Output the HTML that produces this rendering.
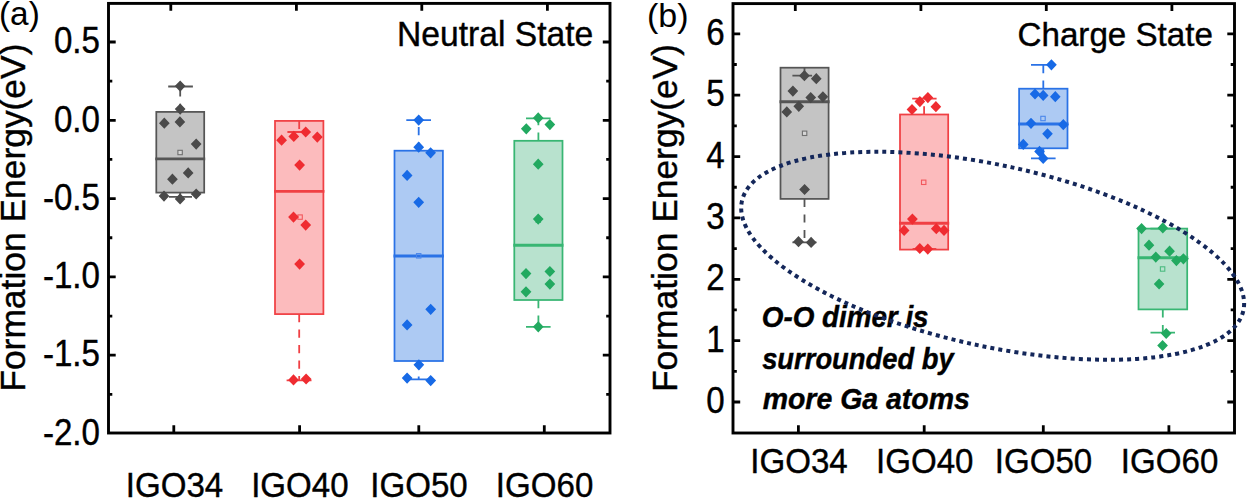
<!DOCTYPE html><html><head><meta charset="utf-8"><style>html,body{margin:0;padding:0;background:#fff;}svg{display:block}text{stroke:#000;stroke-width:0.4px}</style></head><body>
<svg width="1247" height="499" viewBox="0 0 1247 499" font-family='"Liberation Sans", sans-serif'>
<rect width="1247" height="499" fill="#fff"/>
<g>
<rect x="156.3" y="111.9" width="47.9" height="80.7" fill="#c4c4c4" stroke="#555555" stroke-width="1.75"/>
<path d="M180.2,111.9V86.5M180.2,192.6V196.8" stroke="#555555" stroke-width="1.8" stroke-dasharray="8.2 7.3" fill="none"/>
<path d="M168.2,86.5H192.9M168.9,196.8H192.0" stroke="#555555" stroke-width="1.8" fill="none"/>
<path d="M155.3,158.9H205.2" stroke="#555555" stroke-width="2.9"/>
<rect x="177.9" y="150.3" width="4.4" height="4.4" fill="#d6d6d6" stroke="#707070" stroke-width="1.1"/>
<path d="M180.2,80.5L185.5,86.1L180.2,91.7L174.8,86.1ZM180.2,103.5L185.5,109.1L180.2,114.7L174.8,109.1ZM164.3,117.6L169.7,123.2L164.3,128.8L159.0,123.2ZM179.9,116.3L185.2,121.9L179.9,127.5L174.6,121.9ZM196.2,138.5L201.5,144.1L196.2,149.7L190.8,144.1ZM188.2,167.3L193.5,172.9L188.2,178.5L182.8,172.9ZM172.4,173.6L177.8,179.2L172.4,184.8L167.1,179.2ZM164.0,190.5L169.3,196.1L164.0,201.7L158.7,196.1ZM180.1,193.3L185.4,198.9L180.1,204.5L174.8,198.9ZM196.2,188.4L201.5,194.0L196.2,199.6L190.8,194.0Z" fill="#4a4a4a"/>
</g>
<g>
<rect x="275.0" y="120.9" width="48.4" height="193.2" fill="#fcbbbd" stroke="#f04044" stroke-width="1.75"/>
<path d="M299.2,120.9V132.0M299.2,314.1V380.3" stroke="#f04044" stroke-width="1.8" stroke-dasharray="8.2 7.3" fill="none"/>
<path d="M287.4,132.0H301.5M286.6,380.3H311.5" stroke="#f04044" stroke-width="1.8" fill="none"/>
<path d="M274.0,191.4H324.4" stroke="#f04044" stroke-width="2.9"/>
<rect x="297.9" y="214.9" width="4.4" height="4.4" fill="none" stroke="#f2585c" stroke-width="1.1"/>
<path d="M281.6,134.6L287.0,140.2L281.6,145.8L276.2,140.2ZM293.8,130.8L299.2,136.4L293.8,142.0L288.4,136.4ZM305.7,126.4L311.1,132.0L305.7,137.6L300.3,132.0ZM317.3,131.5L322.7,137.1L317.3,142.7L311.9,137.1ZM299.6,159.5L305.0,165.1L299.6,170.7L294.2,165.1ZM293.5,211.5L298.9,217.1L293.5,222.7L288.1,217.1ZM305.7,219.5L311.1,225.1L305.7,230.7L300.3,225.1ZM299.6,258.5L305.0,264.1L299.6,269.7L294.2,264.1ZM293.5,374.3L298.9,379.9L293.5,385.5L288.1,379.9ZM306.1,373.4L311.5,379.0L306.1,384.6L300.8,379.0Z" fill="#ef2c31"/>
</g>
<g>
<rect x="394.5" y="150.7" width="48.4" height="210.3" fill="#adcaf3" stroke="#2a72e6" stroke-width="1.75"/>
<path d="M418.7,150.7V120.1M418.7,361.0V379.3" stroke="#2a72e6" stroke-width="1.8" stroke-dasharray="8.2 7.3" fill="none"/>
<path d="M406.3,120.1H431.0M407.0,379.3H430.7" stroke="#2a72e6" stroke-width="1.8" fill="none"/>
<path d="M393.5,256.0H443.9" stroke="#2a72e6" stroke-width="2.9"/>
<rect x="416.5" y="253.6" width="4.4" height="4.4" fill="none" stroke="#4a86ea" stroke-width="1.1"/>
<path d="M418.7,114.5L424.1,120.1L418.7,125.7L413.3,120.1ZM418.7,141.6L424.1,147.2L418.7,152.8L413.3,147.2ZM430.6,147.2L436.0,152.8L430.6,158.4L425.2,152.8ZM407.1,169.8L412.5,175.4L407.1,181.0L401.8,175.4ZM418.7,196.7L424.1,202.3L418.7,207.9L413.3,202.3ZM430.7,303.7L436.1,309.3L430.7,314.9L425.3,309.3ZM407.1,319.3L412.5,324.9L407.1,330.5L401.8,324.9ZM418.9,359.2L424.2,364.8L418.9,370.4L413.5,364.8ZM407.1,372.5L412.5,378.1L407.1,383.7L401.8,378.1ZM430.7,375.0L436.1,380.6L430.7,386.2L425.3,380.6Z" fill="#186ae6"/>
</g>
<g>
<rect x="514.3" y="140.8" width="48.2" height="159.2" fill="#b8e2ce" stroke="#38b673" stroke-width="1.75"/>
<path d="M538.4,140.8V118.3M538.4,300.0V326.8" stroke="#38b673" stroke-width="1.8" stroke-dasharray="8.2 7.3" fill="none"/>
<path d="M526.0,118.3H550.6M526.0,326.8H550.6" stroke="#38b673" stroke-width="1.8" fill="none"/>
<path d="M513.3,245.2H563.5" stroke="#38b673" stroke-width="2.9"/>
<rect x="536.1" y="218.0" width="4.4" height="4.4" fill="none" stroke="#4cbb80" stroke-width="1.1"/>
<path d="M538.2,112.3L543.6,117.9L538.2,123.5L532.9,117.9ZM526.3,123.2L531.6,128.8L526.3,134.4L520.9,128.8ZM549.9,119.0L555.2,124.6L549.9,130.2L544.5,124.6ZM538.2,158.6L543.6,164.2L538.2,169.8L532.9,164.2ZM538.2,213.5L543.6,219.1L538.2,224.7L532.9,219.1ZM526.0,268.0L531.4,273.6L526.0,279.2L520.6,273.6ZM549.9,265.9L555.2,271.5L549.9,277.1L544.5,271.5ZM549.9,278.5L555.2,284.1L549.9,289.7L544.5,284.1ZM526.0,286.2L531.4,291.8L526.0,297.4L520.6,291.8ZM538.3,321.2L543.6,326.8L538.3,332.4L532.9,326.8Z" fill="#22a960"/>
</g>
<rect x="108.5" y="3.4" width="501.5" height="429.6" fill="none" stroke="#000" stroke-width="2.9"/>
<path d="M108.5,42.00h7.2M610.0,42.00h-7.2M108.5,120.30h7.2M610.0,120.30h-7.2M108.5,198.60h7.2M610.0,198.60h-7.2M108.5,276.90h7.2M610.0,276.90h-7.2M108.5,355.20h7.2M610.0,355.20h-7.2M108.5,81.15h3.8M610.0,81.15h-3.8M108.5,159.45h3.8M610.0,159.45h-3.8M108.5,237.75h3.8M610.0,237.75h-3.8M108.5,316.05h3.8M610.0,316.05h-3.8M108.5,394.35h3.8M610.0,394.35h-3.8M170.80,3.4v7.3M296.40,3.4v7.3M421.80,3.4v7.3M547.40,3.4v7.3M173.80,433.0v-7.8M299.60,433.0v-7.8M418.80,433.0v-7.8M544.30,433.0v-7.8" stroke="#000" stroke-width="2.8" fill="none"/>
<g>
<rect x="780.5" y="67.7" width="48.1" height="131.2" fill="#c4c4c4" stroke="#555555" stroke-width="1.75"/>
<path d="M804.5,67.7V75.7M804.5,198.9V242.4" stroke="#555555" stroke-width="1.8" stroke-dasharray="8.2 7.3" fill="none"/>
<path d="M792.4,75.7H812.1M792.4,242.4H816.5" stroke="#555555" stroke-width="1.8" fill="none"/>
<path d="M779.5,101.8H829.6" stroke="#555555" stroke-width="2.9"/>
<rect x="802.4" y="131.1" width="4.4" height="4.4" fill="#d6d6d6" stroke="#707070" stroke-width="1.1"/>
<path d="M804.4,70.1L809.8,75.7L804.4,81.3L799.0,75.7ZM816.3,73.1L821.6,78.7L816.3,84.3L810.9,78.7ZM792.9,85.5L798.2,91.1L792.9,96.7L787.5,91.1ZM810.7,92.0L816.1,97.6L810.7,103.2L805.4,97.6ZM822.9,91.2L828.2,96.8L822.9,102.4L817.5,96.8ZM798.8,100.7L804.1,106.3L798.8,111.9L793.4,106.3ZM786.8,106.3L792.1,111.9L786.8,117.5L781.4,111.9ZM804.6,183.9L810.0,189.5L804.6,195.1L799.2,189.5ZM798.5,236.1L803.9,241.7L798.5,247.3L793.1,241.7ZM811.1,236.8L816.5,242.4L811.1,248.0L805.8,242.4Z" fill="#4a4a4a"/>
</g>
<g>
<rect x="900.0" y="114.5" width="48.2" height="135.1" fill="#fcbbbd" stroke="#f04044" stroke-width="1.75"/>
<path d="M924.1,114.5V98.6M924.1,249.6V248.9" stroke="#f04044" stroke-width="1.8" stroke-dasharray="8.2 7.3" fill="none"/>
<path d="M912.2,98.6H936.6M912.6,248.9H936.3" stroke="#f04044" stroke-width="1.8" fill="none"/>
<path d="M899.0,223.2H949.2" stroke="#f04044" stroke-width="2.9"/>
<rect x="921.5" y="180.1" width="4.4" height="4.4" fill="none" stroke="#f2585c" stroke-width="1.1"/>
<path d="M927.9,92.0L933.2,97.6L927.9,103.2L922.5,97.6ZM919.9,96.0L925.2,101.6L919.9,107.2L914.5,101.6ZM912.0,103.9L917.4,109.5L912.0,115.1L906.6,109.5ZM935.9,101.1L941.2,106.7L935.9,112.3L930.5,106.7ZM912.4,213.5L917.8,219.1L912.4,224.7L907.0,219.1ZM904.1,224.8L909.5,230.4L904.1,236.0L898.8,230.4ZM936.3,223.1L941.6,228.7L936.3,234.3L930.9,228.7ZM944.0,224.8L949.4,230.4L944.0,236.0L938.6,230.4ZM919.8,242.9L925.1,248.5L919.8,254.1L914.4,248.5ZM927.8,243.5L933.1,249.1L927.8,254.7L922.4,249.1Z" fill="#ef2c31"/>
</g>
<g>
<rect x="1019.1" y="88.7" width="48.4" height="59.6" fill="#adcaf3" stroke="#2a72e6" stroke-width="1.75"/>
<path d="M1043.3,88.7V64.8M1043.3,148.3V158.4" stroke="#2a72e6" stroke-width="1.8" stroke-dasharray="8.2 7.3" fill="none"/>
<path d="M1031.0,64.8H1052.0M1031.0,158.4H1055.6" stroke="#2a72e6" stroke-width="1.8" fill="none"/>
<path d="M1018.1,124.0H1068.5" stroke="#2a72e6" stroke-width="2.9"/>
<rect x="1040.8" y="116.3" width="4.4" height="4.4" fill="none" stroke="#4a86ea" stroke-width="1.1"/>
<path d="M1051.4,59.2L1056.8,64.8L1051.4,70.4L1046.1,64.8ZM1035.0,88.4L1040.3,94.0L1035.0,99.6L1029.7,94.0ZM1043.2,89.8L1048.5,95.4L1043.2,101.0L1037.9,95.4ZM1055.3,91.1L1060.6,96.7L1055.3,102.3L1050.0,96.7ZM1031.0,117.7L1036.3,123.3L1031.0,128.9L1025.7,123.3ZM1063.3,119.1L1068.6,124.7L1063.3,130.3L1058.0,124.7ZM1047.5,128.2L1052.8,133.8L1047.5,139.4L1042.2,133.8ZM1023.3,138.8L1028.6,144.4L1023.3,150.0L1017.9,144.4ZM1039.5,145.8L1044.8,151.4L1039.5,157.0L1034.2,151.4ZM1043.2,152.8L1048.5,158.4L1043.2,164.0L1037.9,158.4Z" fill="#186ae6"/>
</g>
<g>
<rect x="1138.5" y="228.6" width="48.7" height="80.8" fill="#b8e2ce" stroke="#38b673" stroke-width="1.75"/>
<path d="M1162.8,228.6V228.6M1162.8,309.4V332.7" stroke="#38b673" stroke-width="1.8" stroke-dasharray="8.2 7.3" fill="none"/>
<path d="M1150.4,228.6H1174.3M1150.5,332.7H1175.0" stroke="#38b673" stroke-width="1.8" fill="none"/>
<path d="M1137.5,257.8H1188.2" stroke="#38b673" stroke-width="2.9"/>
<rect x="1160.4" y="266.8" width="4.4" height="4.4" fill="none" stroke="#4cbb80" stroke-width="1.1"/>
<path d="M1141.6,223.0L1146.9,228.6L1141.6,234.2L1136.2,228.6ZM1162.8,222.3L1168.1,227.9L1162.8,233.5L1157.5,227.9ZM1149.0,239.6L1154.3,245.2L1149.0,250.8L1143.7,245.2ZM1169.6,245.6L1174.9,251.2L1169.6,256.8L1164.2,251.2ZM1155.8,251.5L1161.1,257.1L1155.8,262.7L1150.5,257.1ZM1176.4,255.0L1181.8,260.6L1176.4,266.2L1171.1,260.6ZM1183.4,253.2L1188.8,258.8L1183.4,264.4L1178.1,258.8ZM1159.1,278.4L1164.4,284.0L1159.1,289.6L1153.8,284.0ZM1166.2,327.9L1171.5,333.5L1166.2,339.1L1160.9,333.5ZM1162.6,339.9L1167.9,345.5L1162.6,351.1L1157.2,345.5Z" fill="#22a960"/>
</g>
<rect x="733.0" y="3.6" width="501.5" height="429.4" fill="none" stroke="#000" stroke-width="2.9"/>
<path d="M733.0,402.00h7.2M1234.5,402.00h-7.2M733.0,340.64h7.2M1234.5,340.64h-7.2M733.0,279.28h7.2M1234.5,279.28h-7.2M733.0,217.92h7.2M1234.5,217.92h-7.2M733.0,156.56h7.2M1234.5,156.56h-7.2M733.0,95.20h7.2M1234.5,95.20h-7.2M733.0,33.84h7.2M1234.5,33.84h-7.2M733.0,371.32h3.8M1234.5,371.32h-3.8M733.0,309.96h3.8M1234.5,309.96h-3.8M733.0,248.60h3.8M1234.5,248.60h-3.8M733.0,187.24h3.8M1234.5,187.24h-3.8M733.0,125.88h3.8M1234.5,125.88h-3.8M733.0,64.52h3.8M1234.5,64.52h-3.8M795.30,3.6v7.3M920.90,3.6v7.3M1046.30,3.6v7.3M1171.90,3.6v7.3M798.40,433.0v-7.8M924.20,433.0v-7.8M1043.30,433.0v-7.8M1168.90,433.0v-7.8" stroke="#000" stroke-width="2.8" fill="none"/>
<text x="100.00" y="53.20" font-size="36" text-anchor="end" textLength="46.04" lengthAdjust="spacingAndGlyphs">0.5</text>
<text x="100.00" y="131.50" font-size="36" text-anchor="end" textLength="46.04" lengthAdjust="spacingAndGlyphs">0.0</text>
<text x="100.00" y="209.80" font-size="36" text-anchor="end" textLength="57.08" lengthAdjust="spacingAndGlyphs">-0.5</text>
<text x="100.00" y="288.10" font-size="36" text-anchor="end" textLength="57.08" lengthAdjust="spacingAndGlyphs">-1.0</text>
<text x="100.00" y="366.40" font-size="36" text-anchor="end" textLength="57.08" lengthAdjust="spacingAndGlyphs">-1.5</text>
<text x="100.00" y="444.70" font-size="36" text-anchor="end" textLength="57.08" lengthAdjust="spacingAndGlyphs">-2.0</text>
<text x="724.70" y="413.00" font-size="36" text-anchor="end" textLength="18.43" lengthAdjust="spacingAndGlyphs">0</text>
<text x="724.70" y="351.64" font-size="36" text-anchor="end" textLength="18.43" lengthAdjust="spacingAndGlyphs">1</text>
<text x="724.70" y="290.28" font-size="36" text-anchor="end" textLength="18.43" lengthAdjust="spacingAndGlyphs">2</text>
<text x="724.70" y="228.92" font-size="36" text-anchor="end" textLength="18.43" lengthAdjust="spacingAndGlyphs">3</text>
<text x="724.70" y="167.56" font-size="36" text-anchor="end" textLength="18.43" lengthAdjust="spacingAndGlyphs">4</text>
<text x="724.70" y="106.20" font-size="36" text-anchor="end" textLength="18.43" lengthAdjust="spacingAndGlyphs">5</text>
<text x="724.70" y="44.84" font-size="36" text-anchor="end" textLength="18.43" lengthAdjust="spacingAndGlyphs">6</text>
<text x="174.50" y="497.00" font-size="35.4" text-anchor="middle" textLength="97.49" lengthAdjust="spacingAndGlyphs">IGO34</text>
<text x="299.90" y="497.00" font-size="35.4" text-anchor="middle" textLength="97.49" lengthAdjust="spacingAndGlyphs">IGO40</text>
<text x="419.00" y="497.00" font-size="35.4" text-anchor="middle" textLength="97.49" lengthAdjust="spacingAndGlyphs">IGO50</text>
<text x="544.60" y="497.00" font-size="35.4" text-anchor="middle" textLength="97.49" lengthAdjust="spacingAndGlyphs">IGO60</text>
<text x="799.00" y="473.40" font-size="35.4" text-anchor="middle" textLength="97.49" lengthAdjust="spacingAndGlyphs">IGO34</text>
<text x="924.70" y="473.40" font-size="35.4" text-anchor="middle" textLength="97.49" lengthAdjust="spacingAndGlyphs">IGO40</text>
<text x="1043.50" y="473.40" font-size="35.4" text-anchor="middle" textLength="97.49" lengthAdjust="spacingAndGlyphs">IGO50</text>
<text x="1169.60" y="473.40" font-size="35.4" text-anchor="middle" textLength="97.49" lengthAdjust="spacingAndGlyphs">IGO60</text>
<text transform="translate(25.3,391.7) rotate(-90)" font-size="35.4">Formation Energy(eV)</text>
<text transform="translate(676.5,392.0) rotate(-90)" font-size="35.4">Formation Energy(eV)</text>
<text x="-1.00" y="25.30" font-size="34" textLength="40.73" lengthAdjust="spacingAndGlyphs" style="stroke-width:0">(a)</text>
<text x="647.00" y="27.00" font-size="34" style="stroke-width:0">(b)</text>
<text x="397.00" y="46.20" font-size="34.5" textLength="196.33" lengthAdjust="spacingAndGlyphs">Neutral State</text>
<text x="1017.50" y="46.20" font-size="33.5" textLength="195.43" lengthAdjust="spacingAndGlyphs">Charge State</text>
<text x="761.81" y="327.30" font-size="29.5" font-weight="bold" font-style="italic" textLength="166.78" lengthAdjust="spacingAndGlyphs">O-O dimer is</text>
<text x="762.13" y="369.00" font-size="29.5" font-weight="bold" font-style="italic" textLength="191.65" lengthAdjust="spacingAndGlyphs">surrounded by</text>
<text x="762.63" y="408.80" font-size="29.5" font-weight="bold" font-style="italic" textLength="207.26" lengthAdjust="spacingAndGlyphs">more Ga atoms</text>
<ellipse cx="992.65" cy="255.79" rx="256.63" ry="90.52" transform="rotate(12.314 992.65 255.79)" fill="none" stroke="#14275a" stroke-width="4" stroke-dasharray="4 4.066" stroke-dashoffset="-0.54"/>
</svg></body></html>
